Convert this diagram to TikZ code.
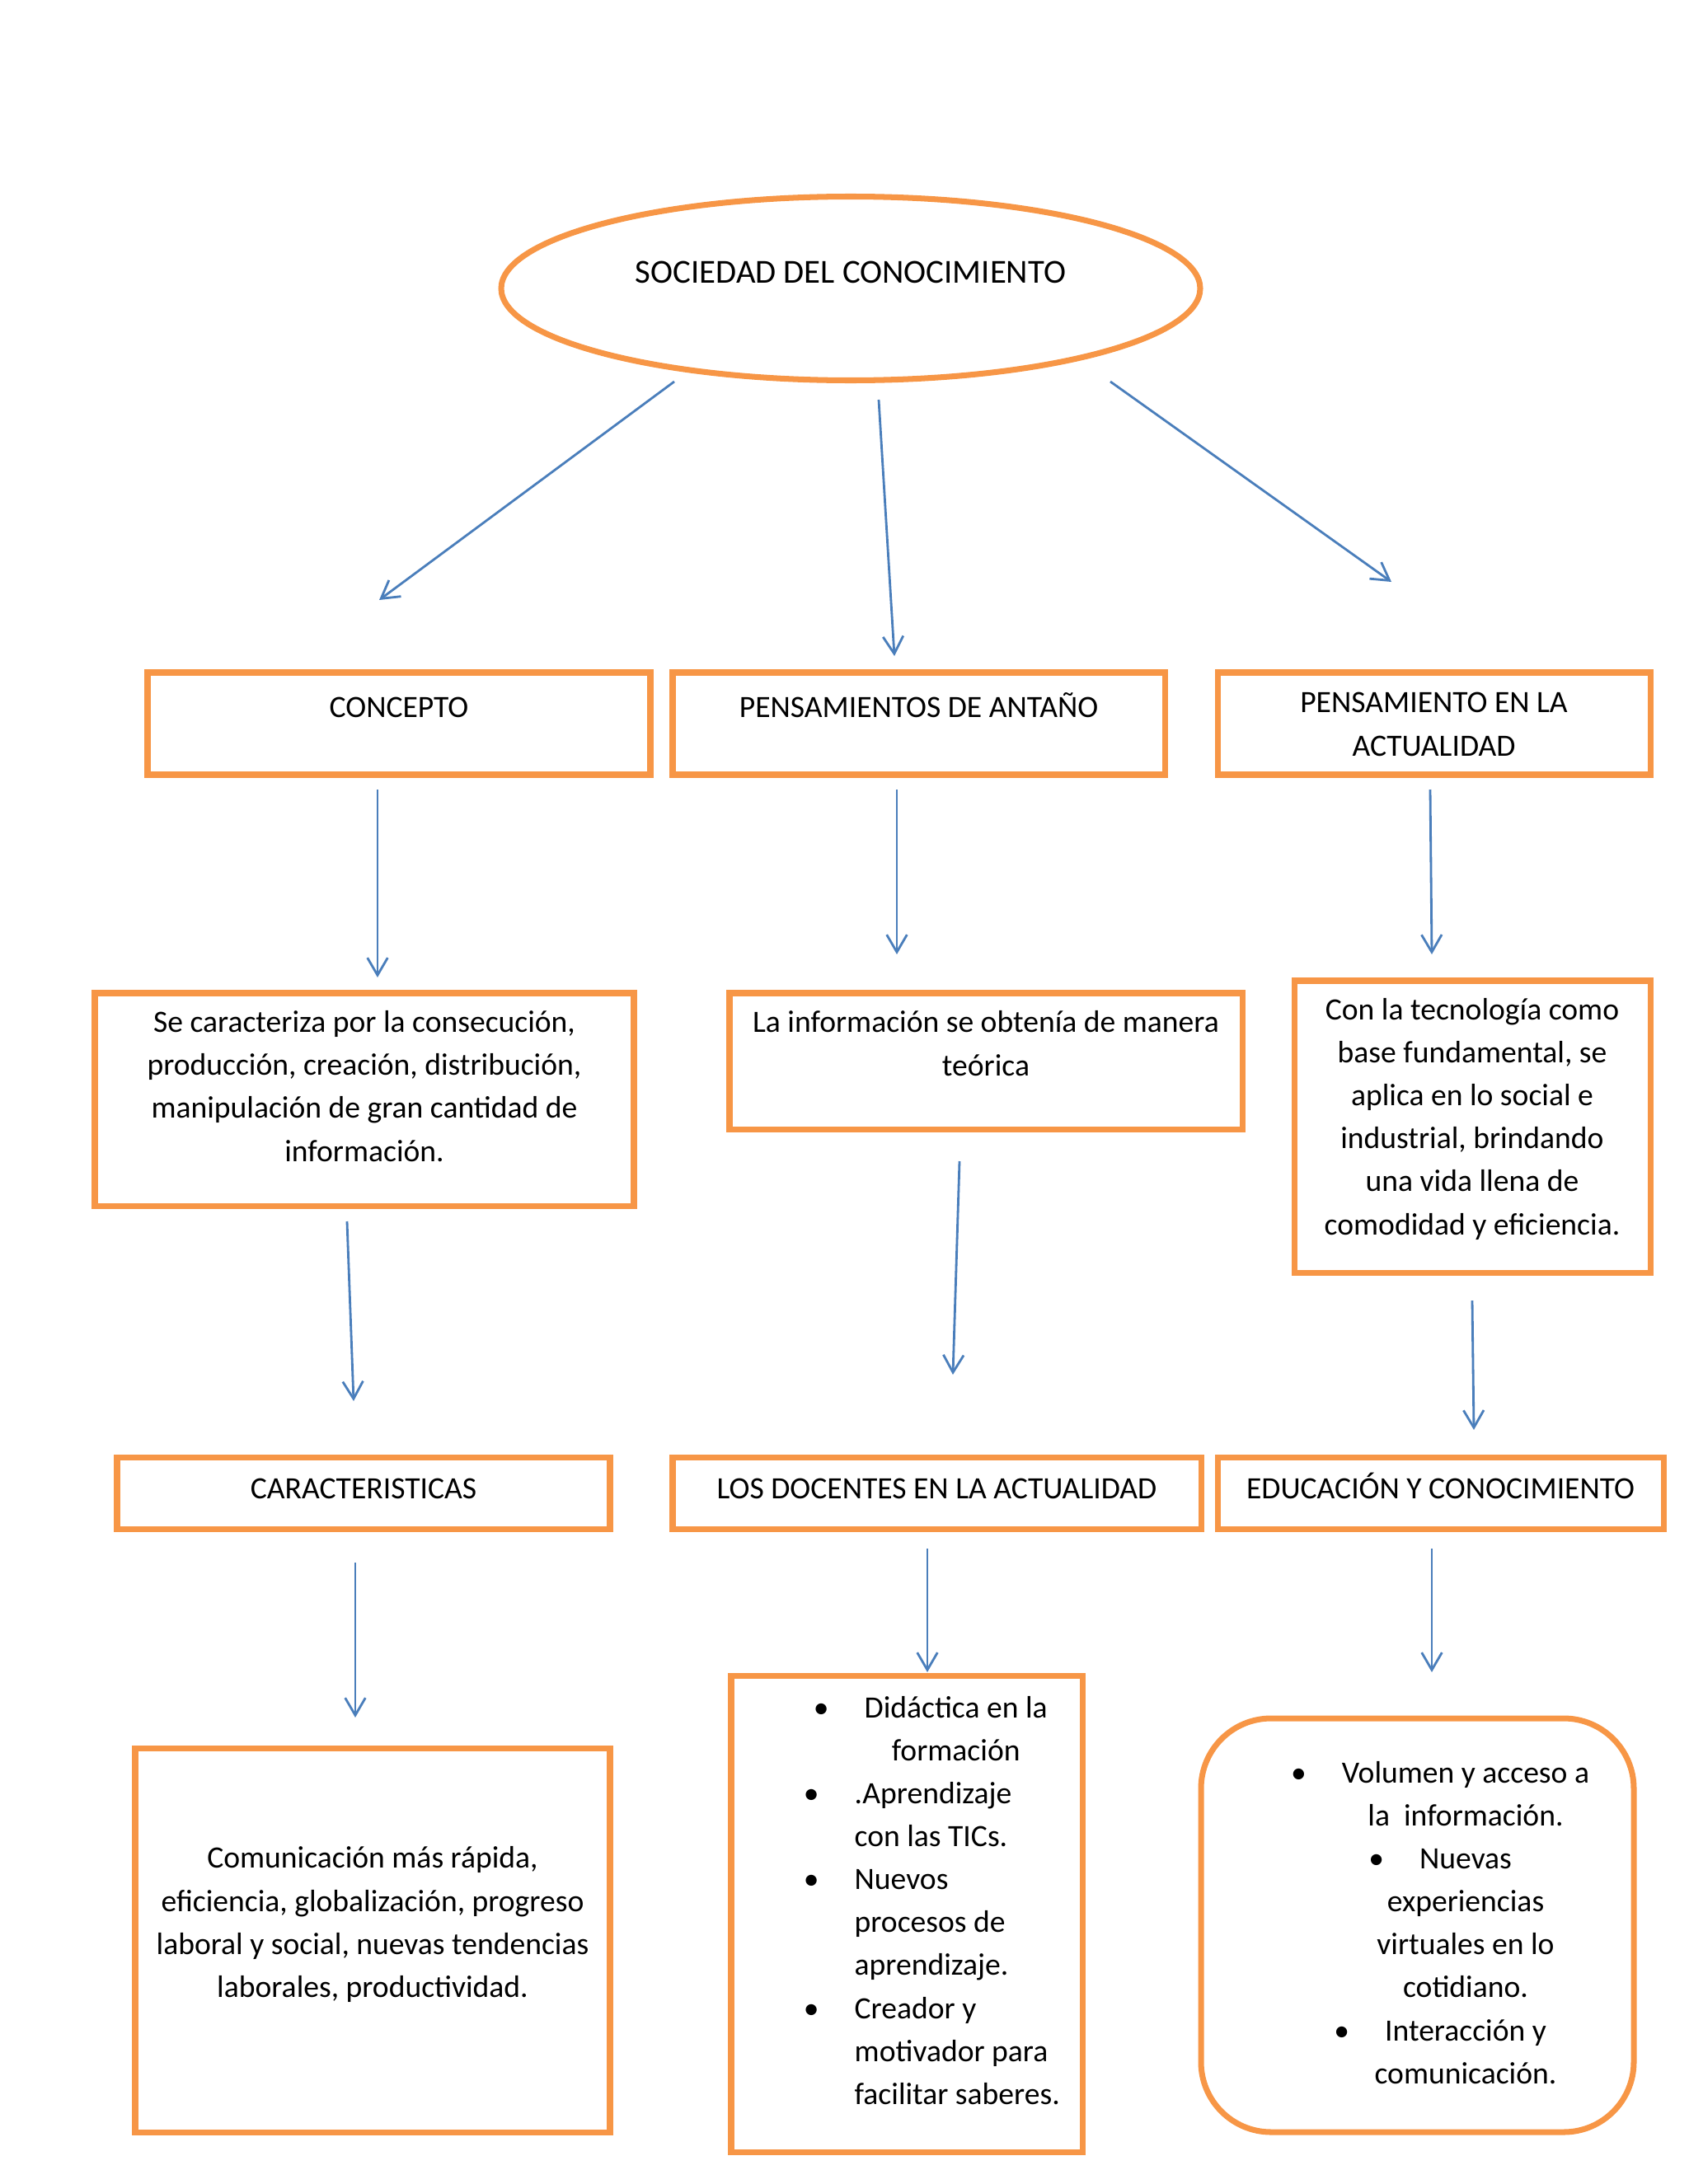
\documentclass[tikz,border=0pt]{standalone}
\usepackage{fontspec}
\setmainfont{Carlito}
\usetikzlibrary{shapes.geometric}
\usetikzlibrary{arrows.meta}
\definecolor{naranja}{HTML}{F79646}
\definecolor{azul}{HTML}{4A7EBB}

\begin{document}
\begin{tikzpicture}[
    font=\fontsize{10.7pt}{14.8pt}\selectfont,
    caja/.style={draw=naranja,line width=2pt,inner sep=0pt,outer sep=0pt,align=center,anchor=north west},
    flecha/.style={draw=azul,line width=0.8pt,-{Straight Barb[length=6pt,width=7pt]}}
]
    \useasboundingbox (0,0) rectangle (20.48,-26.5);

    \node[draw=naranja,line width=2pt,ellipse,minimum width=8.48cm,minimum height=2.23cm,inner sep=0pt,text height=0.3cm,text depth=0.44cm,font=\fontsize{11.6pt}{14.8pt}\selectfont] (soc) at (10.32,-3.50) {SOCIEDAD DEL CONOCIMIENTO};

    % fila 1 (text height/depth cuentan desde la ultima linea)
    \node[caja,minimum width=6.10cm,text height=0.54cm,text depth=0.70cm] (concepto) at (1.79,-8.16) {CONCEPTO};
    \node[caja,minimum width=5.97cm,text height=0.54cm,text depth=0.70cm] (antano) at (8.16,-8.16) {PENSAMIENTOS DE ANTAÑO};
    \node[caja,minimum width=5.25cm,text height=1.01cm,text depth=0.23cm] (actual) at (14.77,-8.16) {PENSAMIENTO EN LA\\ACTUALIDAD};

    % fila 2
    \node[caja,minimum width=6.54cm,text height=2.04cm,text depth=0.54cm] (desc) at (1.15,-12.05) {Se caracteriza por la consecución,\\producción, creación, distribución,\\manipulación de gran cantidad de\\información.};
    \node[caja,minimum width=6.22cm,text height=1.00cm,text depth=0.65cm] (info) at (8.85,-12.05) {La información se obtenía de manera\\teórica};
    \node[caja,minimum width=4.32cm,text height=3.08cm,text depth=0.46cm] (tecno) at (15.70,-11.90) {Con la tecnología como\\base fundamental, se\\aplica en lo social e\\industrial, brindando\\una vida llena de\\comodidad y eficiencia.};

    % fila 3
    \node[caja,minimum width=5.98cm,text height=0.50cm,text depth=0.37cm] (carac) at (1.42,-17.68) {CARACTERISTICAS};
    \node[caja,minimum width=6.41cm,text height=0.50cm,text depth=0.37cm] (docentes) at (8.16,-17.68) {LOS DOCENTES EN LA ACTUALIDAD};
    \node[caja,minimum width=5.41cm,text height=0.50cm,text depth=0.37cm] (educ) at (14.77,-17.68) {EDUCACIÓN Y CONOCIMIENTO};

    % fila 4
    \node[caja,minimum width=5.76cm,text height=3.02cm,text depth=1.64cm] (comun) at (1.64,-21.21) {Comunicación más rápida,\\eficiencia, globalización, progreso\\laboral y social, nuevas tendencias\\laborales, productividad.};
    \node[caja,minimum width=4.26cm,minimum height=5.78cm] (didac) at (8.87,-20.33) {};
    \node[caja,minimum width=5.25cm,minimum height=5.02cm,rounded corners=0.85cm] (vol) at (14.57,-20.85) {};

    \node[anchor=base west,align=left,inner sep=0pt] (didact) at ([xshift=1.49cm,yshift=-5.20cm]didac.north west)
        {\makebox[2.46cm]{\llap{\textbullet\hspace{0.43cm}}Didáctica en la}\\
         \makebox[2.46cm]{formación}\\
         \llap{\textbullet\hspace{0.43cm}}.Aprendizaje\\
         con las TICs.\\
         \llap{\textbullet\hspace{0.43cm}}Nuevos\\
         procesos de\\
         aprendizaje.\\
         \llap{\textbullet\hspace{0.43cm}}Creador y\\
         motivador para\\
         facilitar saberes.};
    \node[anchor=base,align=center,inner sep=0pt] (volt) at ([xshift=0.585cm,yshift=-4.43cm]vol.north)
        {\llap{\textbullet\hspace{0.43cm}}Volumen y acceso a\\
         la~ información.\\
         \llap{\textbullet\hspace{0.43cm}}Nuevas\\
         experiencias\\
         virtuales en lo\\
         cotidiano.\\
         \llap{\textbullet\hspace{0.43cm}}Interacción y\\
         comunicación.};

    % flechas
    \coordinate (s1) at (8.18,-4.63);   \coordinate (e1) at (4.60,-7.28);
    \coordinate (s2) at (10.66,-4.85);  \coordinate (e2) at (10.85,-7.96);
    \coordinate (s3) at (13.47,-4.63);  \coordinate (e3) at (16.88,-7.06);
    \coordinate (s4) at (4.58,-9.58);   \coordinate (e4) at (4.58,-11.86);
    \coordinate (s5) at (10.88,-9.58);  \coordinate (e5) at (10.88,-11.58);
    \coordinate (s6) at (17.35,-9.58);  \coordinate (e6) at (17.37,-11.58);
    \coordinate (s7) at (4.21,-14.82);  \coordinate (e7) at (4.29,-17.00);
    \coordinate (s8) at (11.64,-14.09); \coordinate (e8) at (11.56,-16.68);
    \coordinate (s9) at (17.86,-15.78); \coordinate (e9) at (17.88,-17.35);
    \coordinate (s10) at (4.31,-18.96); \coordinate (e10) at (4.31,-20.84);
    \coordinate (s11) at (11.25,-18.79);\coordinate (e11) at (11.25,-20.29);
    \coordinate (s12) at (17.37,-18.79);\coordinate (e12) at (17.37,-20.29);
    \foreach \i in {1,...,12}
        \draw[flecha] (s\i) -- (e\i);
\end{tikzpicture}
\end{document}
